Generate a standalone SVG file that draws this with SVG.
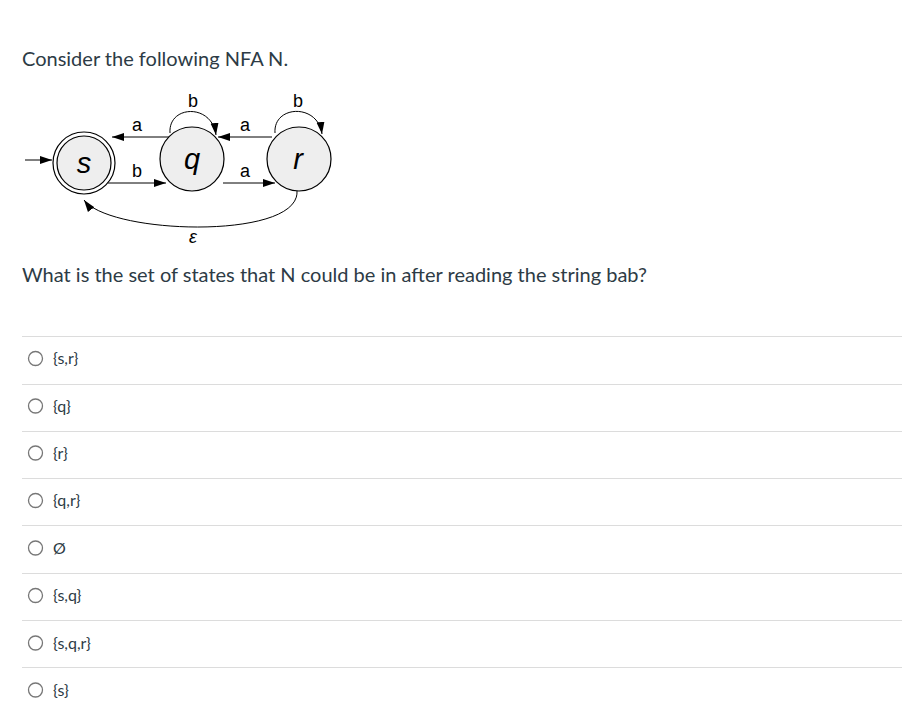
<svg xmlns="http://www.w3.org/2000/svg" width="911" height="721" viewBox="0 0 911 721">
<style>
.q{font-family:Lato,"Liberation Sans",sans-serif;font-size:20px;fill:#2d3b45}
.opt{font-family:Lato,"Liberation Sans",sans-serif;font-size:16px;fill:#2d3b45}
.sep{stroke:#dcdcdc;stroke-width:1}
.radio{fill:#fff;stroke:#777;stroke-width:1.3}
.st{fill:#eeeeee;stroke:#000;stroke-width:1.2}
.sl{font-family:"Liberation Sans",Arial,sans-serif;font-style:italic;font-size:29px;fill:#000;text-anchor:middle}
.el{font-family:"Liberation Sans",Arial,sans-serif;font-size:18px;fill:#000;text-anchor:middle}
.edge{fill:none;stroke:#000;stroke-width:1;marker-end:url(#ah)}
</style>
<defs>
<marker id="ah" viewBox="0 0 12 10" refX="12" refY="5" markerWidth="12" markerHeight="10" markerUnits="userSpaceOnUse" orient="auto">
<path d="M0,1 L12,5 L0,9 z" fill="#000"/>
</marker>
</defs>
<rect width="911" height="721" fill="#fff"/>
<text class="q" x="22" y="66">Consider the following NFA N.</text>

<g id="connectors">
<line class="edge" x1="25" y1="160" x2="52" y2="160"/>
<line class="edge" x1="170" y1="137" x2="112" y2="137"/>
<line class="edge" x1="108" y1="183" x2="166" y2="183"/>
<line class="edge" x1="272" y1="137" x2="218" y2="137"/>
<line class="edge" x1="223" y1="183" x2="275" y2="183"/>
<path class="edge" d="M170,133 C168,105 212,103 216,135"/>
<path class="edge" d="M275,133 C273,105 318,103 322,134"/>
<path class="edge" d="M297,191 C300,240 110,235 84,200"/>
<text class="el" x="137" y="131">a</text>
<text class="el" x="137" y="177">b</text>
<text class="el" x="245" y="131">a</text>
<text class="el" x="245" y="177">a</text>
<text class="el" x="193" y="107">b</text>
<text class="el" x="298" y="107">b</text>
<text class="el" x="193" y="243" font-style="italic" font-family="'Liberation Serif',serif" font-size="23px">ε</text>
</g>

<g id="s">
<circle cx="84" cy="163" r="31" fill="#fff" stroke="#000" stroke-width="1.2"/>
<circle class="st" cx="84" cy="163" r="27"/>
<text class="sl" x="84" y="173">s</text>
</g>
<g id="q">
<circle class="st" cx="192" cy="159" r="32"/>
<text class="sl" x="192" y="169">q</text>
</g>
<g id="r">
<circle class="st" cx="299" cy="159" r="32"/>
<text class="sl" x="298" y="169">r</text>
</g>

<text class="q" x="22" y="282">What is the set of states that N could be in after reading the string bab?</text>

<line class="sep" x1="22" y1="336.5" x2="902" y2="336.5"/>
<line class="sep" x1="22" y1="384.5" x2="902" y2="384.5"/>
<line class="sep" x1="22" y1="431.5" x2="902" y2="431.5"/>
<line class="sep" x1="22" y1="478.5" x2="902" y2="478.5"/>
<line class="sep" x1="22" y1="525.5" x2="902" y2="525.5"/>
<line class="sep" x1="22" y1="573.5" x2="902" y2="573.5"/>
<line class="sep" x1="22" y1="620.5" x2="902" y2="620.5"/>
<line class="sep" x1="22" y1="667.5" x2="902" y2="667.5"/>

<circle class="radio" cx="35.5" cy="358.5" r="7"/>
<text class="opt" x="53" y="364">{s,r}</text>
<circle class="radio" cx="35.5" cy="406" r="7"/>
<text class="opt" x="53" y="411.5">{q}</text>
<circle class="radio" cx="35.5" cy="453" r="7"/>
<text class="opt" x="53" y="458.5">{r}</text>
<circle class="radio" cx="35.5" cy="500.5" r="7"/>
<text class="opt" x="53" y="506">{q,r}</text>
<circle class="radio" cx="35.5" cy="548" r="7"/>
<text class="opt" x="53" y="553.5">Ø</text>
<circle class="radio" cx="35.5" cy="595.5" r="7"/>
<text class="opt" x="53" y="601">{s,q}</text>
<circle class="radio" cx="35.5" cy="643" r="7"/>
<text class="opt" x="53" y="648.5">{s,q,r}</text>
<circle class="radio" cx="35.5" cy="690" r="7"/>
<text class="opt" x="53" y="695.5">{s}</text>
</svg>
